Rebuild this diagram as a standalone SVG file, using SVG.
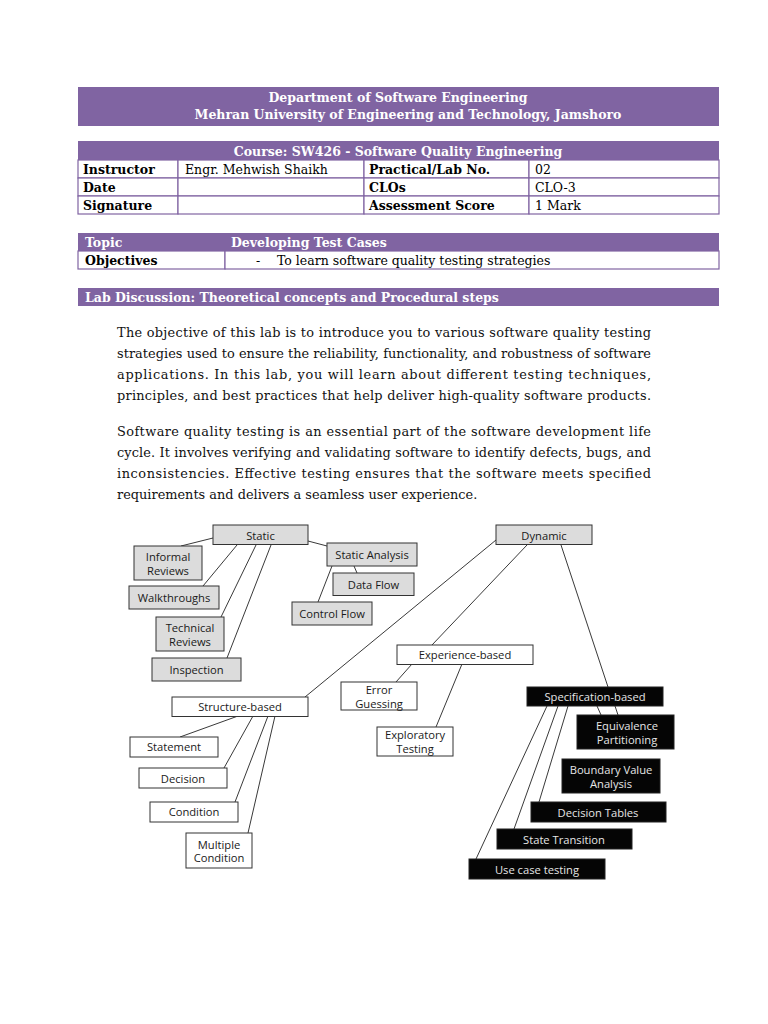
<svg xmlns="http://www.w3.org/2000/svg" width="768" height="1024" viewBox="0 0 768 1024">
<style>
.bar{fill:#8064a2}
.cell{fill:#fff;stroke:#8064a2;stroke-width:1.2}
.hw{font-family:"DejaVu Serif",serif;font-weight:bold;font-size:12.5px;fill:#fff}
.lb{font-family:"DejaVu Serif",serif;font-weight:bold;font-size:12.5px;fill:#000}
.vl{font-family:"DejaVu Serif",serif;font-size:12.5px;fill:#000}
.p{font-family:"DejaVu Serif",serif;font-size:12.9px;fill:#111}
.g rect{fill:#dcdcdc;stroke:#333;stroke-width:1}
.w rect{fill:#fff;stroke:#333;stroke-width:1}
.k rect{fill:#050505;stroke:#222;stroke-width:1}
.g text,.w text{font-family:"Open Sans",sans-serif;font-size:11.2px;fill:#1a1a1a;text-anchor:middle;dominant-baseline:central}
.k text{font-family:"Open Sans",sans-serif;font-size:11.2px;fill:#e6e6e6;text-anchor:middle;dominant-baseline:central}
#connectors line{stroke:#222;stroke-width:0.9}
</style>
<rect width="768" height="1024" fill="#fff"/>

<g id="header">
<rect class="bar" x="78" y="87" width="641" height="39"/>
<text class="hw" x="398" y="102" text-anchor="middle">Department of Software Engineering</text>
<text class="hw" x="408" y="119" text-anchor="middle">Mehran University of Engineering and Technology, Jamshoro</text>
</g>

<g id="course-table">
<rect class="bar" x="78" y="141" width="641" height="19"/>
<text class="hw" x="398" y="156" text-anchor="middle">Course: SW426 - Software Quality Engineering</text>
<rect class="cell" x="78" y="160" width="100" height="18"/>
<rect class="cell" x="178" y="160" width="186" height="18"/>
<rect class="cell" x="364" y="160" width="165" height="18"/>
<rect class="cell" x="529" y="160" width="190" height="18"/>
<rect class="cell" x="78" y="178" width="100" height="18"/>
<rect class="cell" x="178" y="178" width="186" height="18"/>
<rect class="cell" x="364" y="178" width="165" height="18"/>
<rect class="cell" x="529" y="178" width="190" height="18"/>
<rect class="cell" x="78" y="196" width="100" height="18"/>
<rect class="cell" x="178" y="196" width="186" height="18"/>
<rect class="cell" x="364" y="196" width="165" height="18"/>
<rect class="cell" x="529" y="196" width="190" height="18"/>
<text class="lb" x="83" y="174">Instructor</text>
<text class="vl" x="185" y="174">Engr. Mehwish Shaikh</text>
<text class="lb" x="369" y="174">Practical/Lab No.</text>
<text class="vl" x="535" y="174">02</text>
<text class="lb" x="83" y="192">Date</text>
<text class="lb" x="369" y="192">CLOs</text>
<text class="vl" x="535" y="192">CLO-3</text>
<text class="lb" x="83" y="210">Signature</text>
<text class="lb" x="369" y="210">Assessment Score</text>
<text class="vl" x="535" y="210">1 Mark</text>
</g>

<g id="topic-table">
<rect class="bar" x="78" y="233" width="641" height="18"/>
<text class="hw" x="85" y="247">Topic</text>
<text class="hw" x="231" y="247">Developing Test Cases</text>
<rect class="cell" x="78" y="251" width="147" height="18"/>
<rect class="cell" x="225" y="251" width="494" height="18"/>
<text class="lb" x="85" y="265">Objectives</text>
<text class="vl" x="256" y="265">-</text>
<text class="vl" x="277" y="265">To learn software quality testing strategies</text>
</g>

<g id="lab-bar">
<rect class="bar" x="78" y="288" width="641" height="18"/>
<text class="hw" x="85" y="302">Lab Discussion: Theoretical concepts and Procedural steps</text>
</g>

<g id="paragraphs">
<text class="p" x="117" y="337" textLength="534" lengthAdjust="spacing">The objective of this lab is to introduce you to various software quality testing</text>
<text class="p" x="117" y="358" textLength="534" lengthAdjust="spacing">strategies used to ensure the reliability, functionality, and robustness of software</text>
<text class="p" x="117" y="379" textLength="534" lengthAdjust="spacing">applications. In this lab, you will learn about different testing techniques,</text>
<text class="p" x="117" y="400" textLength="534" lengthAdjust="spacing">principles, and best practices that help deliver high-quality software products.</text>
<text class="p" x="117" y="436" textLength="534" lengthAdjust="spacing">Software quality testing is an essential part of the software development life</text>
<text class="p" x="117" y="457" textLength="534" lengthAdjust="spacing">cycle. It involves verifying and validating software to identify defects, bugs, and</text>
<text class="p" x="117" y="478" textLength="534" lengthAdjust="spacing">inconsistencies. Effective testing ensures that the software meets specified</text>
<text class="p" x="117" y="499">requirements and delivers a seamless user experience.</text>
</g>

<g id="connectors">
<line x1="213" y1="538" x2="181" y2="546"/>
<line x1="237" y1="545" x2="203" y2="586"/>
<line x1="256" y1="545" x2="221" y2="617"/>
<line x1="271" y1="545" x2="227" y2="658"/>
<line x1="308" y1="541" x2="327" y2="546"/>
<line x1="354" y1="566" x2="357" y2="573"/>
<line x1="332" y1="566" x2="318" y2="602"/>
<line x1="496" y1="540" x2="305" y2="697"/>
<line x1="527" y1="545" x2="432" y2="645"/>
<line x1="561" y1="545" x2="608" y2="687"/>
<line x1="412" y1="664" x2="396" y2="682"/>
<line x1="462" y1="664" x2="436" y2="727"/>
<line x1="238" y1="716" x2="180" y2="737"/>
<line x1="253" y1="716" x2="224" y2="768"/>
<line x1="268" y1="716" x2="235" y2="802"/>
<line x1="275" y1="716" x2="248" y2="833"/>
<line x1="547" y1="706" x2="476" y2="859"/>
<line x1="558" y1="706" x2="514" y2="829"/>
<line x1="568" y1="706" x2="539" y2="802"/>
<line x1="597" y1="706" x2="601" y2="715"/>
<line x1="615" y1="706" x2="618" y2="715"/>
</g>

<g id="static" class="g"><rect x="213" y="525" width="95" height="19.5"/><text x="260.5" y="535">Static</text></g>
<g id="informal-reviews" class="g"><rect x="134" y="546" width="68" height="34"/><text x="168" y="556">Informal</text><text x="168" y="570">Reviews</text></g>
<g id="walkthroughs" class="g"><rect x="129" y="586" width="90" height="23"/><text x="174" y="597.5">Walkthroughs</text></g>
<g id="technical-reviews" class="g"><rect x="156" y="617" width="68" height="34"/><text x="190" y="627">Technical</text><text x="190" y="641">Reviews</text></g>
<g id="inspection" class="g"><rect x="152" y="658" width="89" height="23"/><text x="196.5" y="669.5">Inspection</text></g>
<g id="static-analysis" class="g"><rect x="327" y="543" width="90" height="23"/><text x="372" y="554.5">Static Analysis</text></g>
<g id="data-flow" class="g"><rect x="333" y="573" width="81" height="22.5"/><text x="373.5" y="584.5">Data Flow</text></g>
<g id="control-flow" class="g"><rect x="292" y="602" width="80" height="23"/><text x="332" y="613.5">Control Flow</text></g>

<g id="dynamic" class="g"><rect x="496" y="525" width="96" height="19.5"/><text x="544" y="535">Dynamic</text></g>
<g id="experience-based" class="w"><rect x="397" y="645" width="136" height="19.5"/><text x="465" y="654.5">Experience-based</text></g>
<g id="error-guessing" class="w"><rect x="341" y="682" width="76" height="28"/><text x="379" y="689.5">Error</text><text x="379" y="703">Guessing</text></g>
<g id="exploratory-testing" class="w"><rect x="377" y="727" width="76" height="29"/><text x="415" y="734.5">Exploratory</text><text x="415" y="748">Testing</text></g>
<g id="structure-based" class="w"><rect x="172" y="697" width="136" height="19.5"/><text x="240" y="706.5">Structure-based</text></g>
<g id="statement" class="w"><rect x="130" y="737" width="88" height="20"/><text x="174" y="746.5">Statement</text></g>
<g id="decision" class="w"><rect x="139" y="768" width="88" height="20"/><text x="183" y="778">Decision</text></g>
<g id="condition" class="w"><rect x="150" y="802" width="88" height="20"/><text x="194" y="811.5">Condition</text></g>
<g id="multiple-condition" class="w"><rect x="186" y="833" width="66" height="35"/><text x="219" y="844">Multiple</text><text x="219" y="857.5">Condition</text></g>

<g id="specification-based" class="k"><rect x="527" y="687" width="136" height="19"/><text x="595" y="696">Specification-based</text></g>
<g id="equivalence-partitioning" class="k"><rect x="577" y="715" width="97" height="34"/><text x="627" y="725">Equivalence</text><text x="627" y="739">Partitioning</text></g>
<g id="boundary-value-analysis" class="k"><rect x="562" y="759" width="98" height="34"/><text x="611" y="769.5">Boundary Value</text><text x="611" y="783">Analysis</text></g>
<g id="decision-tables" class="k"><rect x="531" y="802" width="135" height="20"/><text x="598" y="812">Decision Tables</text></g>
<g id="state-transition" class="k"><rect x="497" y="829" width="135" height="20"/><text x="564" y="839">State Transition</text></g>
<g id="use-case-testing" class="k"><rect x="469" y="859" width="136" height="20"/><text x="537" y="869">Use case testing</text></g>
</svg>
